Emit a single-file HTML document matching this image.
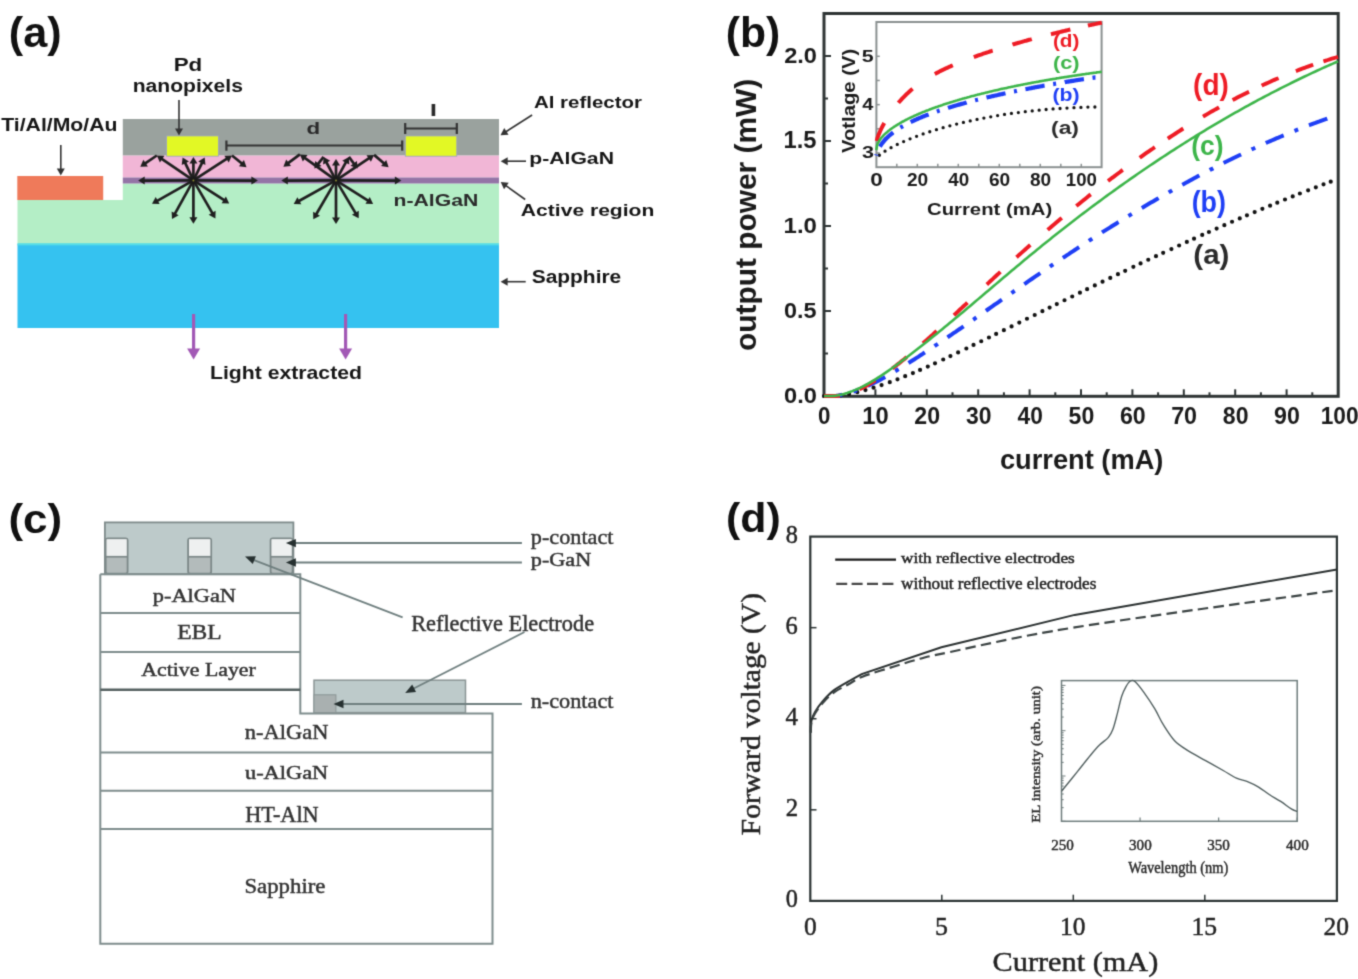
<!DOCTYPE html>
<html><head><meta charset="utf-8"><title>Figure</title>
<style>html,body{margin:0;padding:0;background:#fff;}svg{display:block;}</style></head>
<body><svg width="1358" height="979" viewBox="0 0 1358 979">
<defs><filter id="soft" x="0" y="0" width="1" height="1" color-interpolation-filters="sRGB"><feConvolveMatrix order="3" kernelMatrix="0.02560 0.10880 0.02560 0.10880 0.46240 0.10880 0.02560 0.10880 0.02560" divisor="1" edgeMode="duplicate"/></filter></defs>
<rect width="1358" height="979" fill="#fff"/>
<g filter="url(#soft)"><rect width="1358" height="979" fill="#fff"/>
<polygon points="17.5,200 122.8,200 122.8,183.5 499,183.5 499,244 17.5,244" fill="#b4eec6"/>
<rect x="17.50" y="244.00" width="481.50" height="84.00" fill="#35c2f0" stroke="none" stroke-width="0"/>
<rect x="17.50" y="243.20" width="481.50" height="2.20" fill="#55dde6" stroke="none" stroke-width="0"/>
<rect x="17.30" y="176.00" width="85.90" height="24.00" fill="#ef7a5a" stroke="none" stroke-width="0"/>
<rect x="122.80" y="119.00" width="376.20" height="36.60" fill="#9aa29e" stroke="none" stroke-width="0"/>
<rect x="122.80" y="155.60" width="376.20" height="21.90" fill="#f1b6d6" stroke="none" stroke-width="0"/>
<rect x="122.80" y="177.50" width="376.20" height="6.00" fill="#9474a6" stroke="none" stroke-width="0"/>
<rect x="166.60" y="135.90" width="51.90" height="20.30" fill="#e2f825" stroke="#9aa0c8" stroke-width="0.8"/>
<rect x="405.30" y="135.90" width="51.50" height="20.30" fill="#e2f825" stroke="#9aa0c8" stroke-width="0.8"/>
<line x1="226.40" y1="145.60" x2="402.00" y2="145.60" stroke="#333" stroke-width="2"/>
<line x1="226.40" y1="140.50" x2="226.40" y2="150.70" stroke="#333" stroke-width="2.2"/>
<line x1="402.20" y1="140.50" x2="402.20" y2="150.70" stroke="#333" stroke-width="2.2"/>
<line x1="405.20" y1="128.60" x2="456.80" y2="128.60" stroke="#333" stroke-width="2"/>
<line x1="405.20" y1="123.00" x2="405.20" y2="134.00" stroke="#333" stroke-width="2.2"/>
<line x1="456.80" y1="123.00" x2="456.80" y2="134.00" stroke="#333" stroke-width="2.2"/>
<line x1="60.80" y1="145.00" x2="60.80" y2="169.60" stroke="#333" stroke-width="1.6"/>
<polygon points="60.80,175.60 56.80,168.60 64.80,168.60" fill="#333"/>
<line x1="179.00" y1="100.00" x2="179.00" y2="129.50" stroke="#333" stroke-width="1.6"/>
<polygon points="179.00,135.50 175.00,128.50 183.00,128.50" fill="#333"/>
<line x1="532.10" y1="115.00" x2="505.56" y2="131.97" stroke="#333" stroke-width="1.6"/>
<polygon points="500.50,135.20 504.24,128.06 508.55,134.80" fill="#333"/>
<line x1="526.00" y1="161.20" x2="506.70" y2="161.20" stroke="#333" stroke-width="1.6"/>
<polygon points="500.70,161.20 507.70,157.20 507.70,165.20" fill="#333"/>
<line x1="525.20" y1="199.50" x2="505.57" y2="185.40" stroke="#333" stroke-width="1.6"/>
<polygon points="500.70,181.90 508.72,182.74 504.05,189.23" fill="#333"/>
<line x1="525.70" y1="281.70" x2="506.60" y2="281.70" stroke="#333" stroke-width="1.6"/>
<polygon points="500.60,281.70 507.60,277.70 507.60,285.70" fill="#333"/>
<line x1="193.60" y1="314.00" x2="193.60" y2="349.50" stroke="#a259b5" stroke-width="3.2"/>
<polygon points="193.60,359.50 187.10,348.50 200.10,348.50" fill="#a259b5"/>
<line x1="345.60" y1="314.00" x2="345.60" y2="349.50" stroke="#a259b5" stroke-width="3.2"/>
<polygon points="345.60,359.50 339.10,348.50 352.10,348.50" fill="#a259b5"/>
<line x1="193.40" y1="180.40" x2="143.70" y2="180.58" stroke="#1f1f1f" stroke-width="2.7"/>
<polygon points="138.20,180.60 144.69,176.58 144.71,184.58" fill="#1f1f1f"/>
<line x1="193.40" y1="180.40" x2="252.40" y2="180.58" stroke="#1f1f1f" stroke-width="2.7"/>
<polygon points="257.90,180.60 251.39,184.58 251.41,176.58" fill="#1f1f1f"/>
<line x1="193.40" y1="180.40" x2="193.40" y2="218.20" stroke="#1f1f1f" stroke-width="2.7"/>
<polygon points="193.40,223.70 189.40,217.20 197.40,217.20" fill="#1f1f1f"/>
<line x1="193.40" y1="180.40" x2="174.67" y2="214.19" stroke="#1f1f1f" stroke-width="2.7"/>
<polygon points="172.00,219.00 171.65,211.38 178.65,215.25" fill="#1f1f1f"/>
<line x1="193.40" y1="180.40" x2="212.64" y2="213.64" stroke="#1f1f1f" stroke-width="2.7"/>
<polygon points="215.40,218.40 208.68,214.78 215.60,210.77" fill="#1f1f1f"/>
<line x1="193.40" y1="180.40" x2="156.79" y2="201.09" stroke="#1f1f1f" stroke-width="2.7"/>
<polygon points="152.00,203.80 155.69,197.12 159.63,204.08" fill="#1f1f1f"/>
<line x1="193.40" y1="180.40" x2="224.57" y2="200.43" stroke="#1f1f1f" stroke-width="2.7"/>
<polygon points="229.20,203.40 221.57,203.25 225.89,196.52" fill="#1f1f1f"/>
<line x1="193.40" y1="180.40" x2="184.94" y2="162.38" stroke="#1f1f1f" stroke-width="2.7"/>
<polygon points="182.60,157.40 188.98,161.58 181.74,164.98" fill="#1f1f1f"/>
<line x1="193.40" y1="180.40" x2="193.40" y2="162.40" stroke="#1f1f1f" stroke-width="2.7"/>
<polygon points="193.40,156.90 197.40,163.40 189.40,163.40" fill="#1f1f1f"/>
<line x1="193.40" y1="180.40" x2="202.27" y2="162.34" stroke="#1f1f1f" stroke-width="2.7"/>
<polygon points="204.70,157.40 205.42,165.00 198.24,161.47" fill="#1f1f1f"/>
<line x1="193.40" y1="180.40" x2="161.35" y2="158.59" stroke="#1f1f1f" stroke-width="2.7"/>
<polygon points="156.80,155.50 164.42,155.85 159.92,162.46" fill="#1f1f1f"/>
<line x1="156.80" y1="155.50" x2="144.84" y2="163.69" stroke="#1f1f1f" stroke-width="2.7"/>
<polygon points="140.30,166.80 143.40,159.83 147.92,166.43" fill="#1f1f1f"/>
<line x1="193.40" y1="180.40" x2="227.38" y2="158.48" stroke="#1f1f1f" stroke-width="2.7"/>
<polygon points="232.00,155.50 228.71,162.38 224.37,155.66" fill="#1f1f1f"/>
<line x1="232.00" y1="155.50" x2="242.22" y2="163.75" stroke="#1f1f1f" stroke-width="2.7"/>
<polygon points="246.50,167.20 238.93,166.23 243.95,160.01" fill="#1f1f1f"/>
<line x1="336.00" y1="180.40" x2="286.80" y2="180.58" stroke="#1f1f1f" stroke-width="2.7"/>
<polygon points="281.30,180.60 287.79,176.58 287.81,184.58" fill="#1f1f1f"/>
<line x1="336.00" y1="180.40" x2="395.90" y2="180.58" stroke="#1f1f1f" stroke-width="2.7"/>
<polygon points="401.40,180.60 394.89,184.58 394.91,176.58" fill="#1f1f1f"/>
<line x1="336.00" y1="180.40" x2="336.00" y2="218.50" stroke="#1f1f1f" stroke-width="2.7"/>
<polygon points="336.00,224.00 332.00,217.50 340.00,217.50" fill="#1f1f1f"/>
<line x1="336.00" y1="180.40" x2="316.07" y2="214.55" stroke="#1f1f1f" stroke-width="2.7"/>
<polygon points="313.30,219.30 313.12,211.67 320.03,215.70" fill="#1f1f1f"/>
<line x1="336.00" y1="180.40" x2="355.87" y2="213.58" stroke="#1f1f1f" stroke-width="2.7"/>
<polygon points="358.70,218.30 351.93,214.78 358.79,210.67" fill="#1f1f1f"/>
<line x1="336.00" y1="180.40" x2="298.51" y2="201.23" stroke="#1f1f1f" stroke-width="2.7"/>
<polygon points="293.70,203.90 297.44,197.25 301.32,204.24" fill="#1f1f1f"/>
<line x1="336.00" y1="180.40" x2="368.45" y2="200.96" stroke="#1f1f1f" stroke-width="2.7"/>
<polygon points="373.10,203.90 365.47,203.80 369.75,197.04" fill="#1f1f1f"/>
<line x1="336.00" y1="180.40" x2="336.00" y2="164.40" stroke="#1f1f1f" stroke-width="2.7"/>
<polygon points="336.00,158.90 340.00,165.40 332.00,165.40" fill="#1f1f1f"/>
<line x1="336.00" y1="180.40" x2="326.17" y2="161.76" stroke="#1f1f1f" stroke-width="2.7"/>
<polygon points="323.60,156.90 330.17,160.78 323.10,164.52" fill="#1f1f1f"/>
<line x1="323.60" y1="156.90" x2="317.72" y2="164.29" stroke="#1f1f1f" stroke-width="2.7"/>
<polygon points="314.30,168.60 315.21,161.02 321.48,166.00" fill="#1f1f1f"/>
<line x1="336.00" y1="180.40" x2="346.25" y2="161.72" stroke="#1f1f1f" stroke-width="2.7"/>
<polygon points="348.90,156.90 349.28,164.52 342.27,160.67" fill="#1f1f1f"/>
<line x1="348.90" y1="156.90" x2="354.32" y2="164.19" stroke="#1f1f1f" stroke-width="2.7"/>
<polygon points="357.60,168.60 350.51,165.77 356.93,161.00" fill="#1f1f1f"/>
<line x1="336.00" y1="180.40" x2="304.36" y2="157.61" stroke="#1f1f1f" stroke-width="2.7"/>
<polygon points="299.90,154.40 307.51,154.95 302.84,161.44" fill="#1f1f1f"/>
<line x1="299.90" y1="154.40" x2="287.81" y2="163.41" stroke="#1f1f1f" stroke-width="2.7"/>
<polygon points="283.40,166.70 286.22,159.61 291.00,166.02" fill="#1f1f1f"/>
<line x1="336.00" y1="180.40" x2="369.53" y2="157.96" stroke="#1f1f1f" stroke-width="2.7"/>
<polygon points="374.10,154.90 370.92,161.84 366.47,155.19" fill="#1f1f1f"/>
<line x1="374.10" y1="154.90" x2="384.42" y2="163.73" stroke="#1f1f1f" stroke-width="2.7"/>
<polygon points="388.60,167.30 381.06,166.12 386.26,160.04" fill="#1f1f1f"/>
<circle cx="193.4" cy="180.4" r="3.6" fill="#1a1a1a"/><circle cx="193.4" cy="180.4" r="1" fill="#8a8a30"/>
<circle cx="336" cy="180.4" r="3.6" fill="#1a1a1a"/><circle cx="336" cy="180.4" r="1" fill="#8a8a30"/>
<text transform="translate(8.84,46.99) scale(1.0073,1)" font-family='"Liberation Sans", Arial, sans-serif' font-weight="700" font-size="42.89" fill="#111">(a)</text>
<text transform="translate(173.65,71.20) scale(1.2280,1)" font-family='"Liberation Sans", Arial, sans-serif' font-weight="700" font-size="18.21" fill="#151515">Pd</text>
<text transform="translate(132.63,91.84) scale(1.2122,1)" font-family='"Liberation Sans", Arial, sans-serif' font-weight="700" font-size="17.43" fill="#151515">nanopixels</text>
<text transform="translate(1.19,131.20) scale(1.1492,1)" font-family='"Liberation Sans", Arial, sans-serif' font-weight="700" font-size="18.48" fill="#151515">Ti/Al/Mo/Au</text>
<text transform="translate(533.89,107.60) scale(1.2070,1)" font-family='"Liberation Sans", Arial, sans-serif' font-weight="700" font-size="16.97" fill="#151515">Al reflector</text>
<text transform="translate(529.22,164.30) scale(1.3358,1)" font-family='"Liberation Sans", Arial, sans-serif' font-weight="700" font-size="15.86" fill="#151515">p-AlGaN</text>
<text transform="translate(393.42,205.50) scale(1.3611,1)" font-family='"Liberation Sans", Arial, sans-serif' font-weight="700" font-size="15.59" fill="#2a2a2a">n-AlGaN</text>
<text transform="translate(520.87,216.40) scale(1.3295,1)" font-family='"Liberation Sans", Arial, sans-serif' font-weight="700" font-size="15.86" fill="#151515">Active region</text>
<text transform="translate(531.67,283.40) scale(1.1168,1)" font-family='"Liberation Sans", Arial, sans-serif' font-weight="700" font-size="18.76" fill="#151515">Sapphire</text>
<text transform="translate(209.92,379.30) scale(1.1569,1)" font-family='"Liberation Sans", Arial, sans-serif' font-weight="700" font-size="18.34" fill="#151515">Light extracted</text>
<text transform="translate(306.40,133.50) scale(1.3297,1)" font-family='"Liberation Sans", Arial, sans-serif' font-weight="700" font-size="16.83" fill="#2a2a2a">d</text>
<text transform="translate(429.65,115.60) scale(1.6956,1)" font-family='"Liberation Sans", Arial, sans-serif' font-weight="700" font-size="15.59" fill="#2a2a2a">l</text>
<rect x="824" y="13.5" width="514.2" height="382.8" fill="none" stroke="#2e3434" stroke-width="3"/>
<line x1="849.70" y1="396.30" x2="849.70" y2="392.30" stroke="#2e3434" stroke-width="2"/>
<line x1="875.40" y1="396.30" x2="875.40" y2="389.30" stroke="#2e3434" stroke-width="2"/>
<line x1="901.10" y1="396.30" x2="901.10" y2="392.30" stroke="#2e3434" stroke-width="2"/>
<line x1="926.80" y1="396.30" x2="926.80" y2="389.30" stroke="#2e3434" stroke-width="2"/>
<line x1="952.50" y1="396.30" x2="952.50" y2="392.30" stroke="#2e3434" stroke-width="2"/>
<line x1="978.20" y1="396.30" x2="978.20" y2="389.30" stroke="#2e3434" stroke-width="2"/>
<line x1="1003.90" y1="396.30" x2="1003.90" y2="392.30" stroke="#2e3434" stroke-width="2"/>
<line x1="1029.60" y1="396.30" x2="1029.60" y2="389.30" stroke="#2e3434" stroke-width="2"/>
<line x1="1055.30" y1="396.30" x2="1055.30" y2="392.30" stroke="#2e3434" stroke-width="2"/>
<line x1="1081.00" y1="396.30" x2="1081.00" y2="389.30" stroke="#2e3434" stroke-width="2"/>
<line x1="1106.70" y1="396.30" x2="1106.70" y2="392.30" stroke="#2e3434" stroke-width="2"/>
<line x1="1132.40" y1="396.30" x2="1132.40" y2="389.30" stroke="#2e3434" stroke-width="2"/>
<line x1="1158.10" y1="396.30" x2="1158.10" y2="392.30" stroke="#2e3434" stroke-width="2"/>
<line x1="1183.80" y1="396.30" x2="1183.80" y2="389.30" stroke="#2e3434" stroke-width="2"/>
<line x1="1209.50" y1="396.30" x2="1209.50" y2="392.30" stroke="#2e3434" stroke-width="2"/>
<line x1="1235.20" y1="396.30" x2="1235.20" y2="389.30" stroke="#2e3434" stroke-width="2"/>
<line x1="1260.90" y1="396.30" x2="1260.90" y2="392.30" stroke="#2e3434" stroke-width="2"/>
<line x1="1286.60" y1="396.30" x2="1286.60" y2="389.30" stroke="#2e3434" stroke-width="2"/>
<line x1="1312.30" y1="396.30" x2="1312.30" y2="392.30" stroke="#2e3434" stroke-width="2"/>
<line x1="824.00" y1="353.50" x2="828.00" y2="353.50" stroke="#2e3434" stroke-width="2"/>
<line x1="824.00" y1="311.00" x2="831.00" y2="311.00" stroke="#2e3434" stroke-width="2"/>
<line x1="824.00" y1="268.50" x2="828.00" y2="268.50" stroke="#2e3434" stroke-width="2"/>
<line x1="824.00" y1="226.00" x2="831.00" y2="226.00" stroke="#2e3434" stroke-width="2"/>
<line x1="824.00" y1="183.50" x2="828.00" y2="183.50" stroke="#2e3434" stroke-width="2"/>
<line x1="824.00" y1="141.00" x2="831.00" y2="141.00" stroke="#2e3434" stroke-width="2"/>
<line x1="824.00" y1="98.50" x2="828.00" y2="98.50" stroke="#2e3434" stroke-width="2"/>
<line x1="824.00" y1="56.00" x2="831.00" y2="56.00" stroke="#2e3434" stroke-width="2"/>
<text transform="translate(784.05,402.87) scale(1.0371,1)" font-family='"Liberation Sans", Arial, sans-serif' font-weight="700" font-size="22.82" fill="#1a1a1a">0.0</text>
<text transform="translate(784.06,317.87) scale(1.0254,1)" font-family='"Liberation Sans", Arial, sans-serif' font-weight="700" font-size="22.82" fill="#1a1a1a">0.5</text>
<text transform="translate(783.56,232.87) scale(1.0532,1)" font-family='"Liberation Sans", Arial, sans-serif' font-weight="700" font-size="22.82" fill="#1a1a1a">1.0</text>
<text transform="translate(783.57,147.87) scale(1.0264,1)" font-family='"Liberation Sans", Arial, sans-serif' font-weight="700" font-size="23.14" fill="#1a1a1a">1.5</text>
<text transform="translate(784.17,62.87) scale(1.0332,1)" font-family='"Liberation Sans", Arial, sans-serif' font-weight="700" font-size="22.82" fill="#1a1a1a">2.0</text>
<text transform="translate(818.11,423.96) scale(0.9320,1)" font-family='"Liberation Sans", Arial, sans-serif' font-weight="700" font-size="23.94" fill="#1a1a1a">0</text>
<text transform="translate(862.27,423.96) scale(0.9924,1)" font-family='"Liberation Sans", Arial, sans-serif' font-weight="700" font-size="23.94" fill="#1a1a1a">10</text>
<text transform="translate(914.29,423.96) scale(0.9685,1)" font-family='"Liberation Sans", Arial, sans-serif' font-weight="700" font-size="23.94" fill="#1a1a1a">20</text>
<text transform="translate(965.93,423.96) scale(0.9592,1)" font-family='"Liberation Sans", Arial, sans-serif' font-weight="700" font-size="23.94" fill="#1a1a1a">30</text>
<text transform="translate(1017.56,423.96) scale(0.9501,1)" font-family='"Liberation Sans", Arial, sans-serif' font-weight="700" font-size="23.94" fill="#1a1a1a">40</text>
<text transform="translate(1068.61,423.96) scale(0.9638,1)" font-family='"Liberation Sans", Arial, sans-serif' font-weight="700" font-size="23.94" fill="#1a1a1a">50</text>
<text transform="translate(1119.89,423.96) scale(0.9685,1)" font-family='"Liberation Sans", Arial, sans-serif' font-weight="700" font-size="23.94" fill="#1a1a1a">60</text>
<text transform="translate(1171.17,423.96) scale(0.9732,1)" font-family='"Liberation Sans", Arial, sans-serif' font-weight="700" font-size="23.94" fill="#1a1a1a">70</text>
<text transform="translate(1222.81,423.96) scale(0.9638,1)" font-family='"Liberation Sans", Arial, sans-serif' font-weight="700" font-size="23.94" fill="#1a1a1a">80</text>
<text transform="translate(1274.09,423.96) scale(0.9685,1)" font-family='"Liberation Sans", Arial, sans-serif' font-weight="700" font-size="23.94" fill="#1a1a1a">90</text>
<text transform="translate(1320.69,423.96) scale(0.9474,1)" font-family='"Liberation Sans", Arial, sans-serif' font-weight="700" font-size="23.94" fill="#1a1a1a">100</text>
<text transform="translate(999.91,469.29) scale(0.9689,1)" font-family='"Liberation Sans", Arial, sans-serif' font-weight="700" font-size="28.13" fill="#1a1a1a">current (mA)</text>
<text transform="translate(755.98,351.10) rotate(-90) scale(1.0439,1)" font-family='"Liberation Sans", Arial, sans-serif' font-weight="700" font-size="28.66" fill="#1a1a1a">output power (mW)</text>
<text transform="translate(725.87,46.76) scale(1.0014,1)" font-family='"Liberation Sans", Arial, sans-serif' font-weight="700" font-size="42.57" fill="#111">(b)</text>
<path d="M824.0,396.0 L826.1,396.0 L828.1,396.0 L830.2,396.0 L832.2,396.0 L834.3,396.0 L836.3,396.0 L838.4,395.8 L840.4,395.5 L842.5,395.2 L844.6,394.8 L846.6,394.5 L848.7,394.1 L850.7,393.6 L852.8,393.2 L854.8,392.8 L856.9,392.3 L859.0,391.8 L861.0,391.3 L863.1,390.7 L865.1,390.2 L867.2,389.6 L869.2,389.0 L871.3,388.4 L873.3,387.8 L875.4,387.1 L877.5,386.5 L879.5,385.8 L881.6,385.1 L883.6,384.4 L885.7,383.7 L887.7,382.9 L889.8,382.2 L891.8,381.4 L893.9,380.7 L896.0,379.9 L898.0,379.1 L900.1,378.3 L902.1,377.5 L904.2,376.6 L906.2,375.8 L908.3,375.0 L910.4,374.1 L912.4,373.3 L914.5,372.4 L916.5,371.5 L918.6,370.6 L920.6,369.7 L922.7,368.8 L924.7,367.9 L926.8,367.0 L928.9,366.1 L930.9,365.2 L933.0,364.2 L935.0,363.3 L937.1,362.3 L939.1,361.4 L941.2,360.4 L943.2,359.5 L945.3,358.5 L947.4,357.6 L949.4,356.6 L951.5,355.6 L953.5,354.6 L955.6,353.7 L957.6,352.7 L959.7,351.7 L961.8,350.7 L963.8,349.7 L965.9,348.7 L967.9,347.7 L970.0,346.7 L972.0,345.7 L974.1,344.7 L976.1,343.7 L978.2,342.7 L980.3,341.7 L982.3,340.7 L984.4,339.7 L986.4,338.7 L988.5,337.7 L990.5,336.7 L992.6,335.7 L994.6,334.7 L996.7,333.7 L998.8,332.7 L1000.8,331.7 L1002.9,330.7 L1004.9,329.7 L1007.0,328.7 L1009.0,327.6 L1011.1,326.6 L1013.2,325.6 L1015.2,324.6 L1017.3,323.6 L1019.3,322.6 L1021.4,321.6 L1023.4,320.5 L1025.5,319.5 L1027.5,318.5 L1029.6,317.5 L1031.7,316.5 L1033.7,315.5 L1035.8,314.5 L1037.8,313.4 L1039.9,312.4 L1041.9,311.4 L1044.0,310.4 L1046.0,309.4 L1048.1,308.4 L1050.2,307.3 L1052.2,306.3 L1054.3,305.3 L1056.3,304.3 L1058.4,303.3 L1060.4,302.3 L1062.5,301.3 L1064.6,300.2 L1066.6,299.2 L1068.7,298.2 L1070.7,297.2 L1072.8,296.2 L1074.8,295.2 L1076.9,294.2 L1078.9,293.2 L1081.0,292.2 L1083.1,291.2 L1085.1,290.2 L1087.2,289.1 L1089.2,288.1 L1091.3,287.1 L1093.3,286.1 L1095.4,285.1 L1097.4,284.1 L1099.5,283.1 L1101.6,282.1 L1103.6,281.2 L1105.7,280.2 L1107.7,279.2 L1109.8,278.2 L1111.8,277.2 L1113.9,276.2 L1116.0,275.2 L1118.0,274.2 L1120.1,273.2 L1122.1,272.2 L1124.2,271.3 L1126.2,270.3 L1128.3,269.3 L1130.3,268.3 L1132.4,267.3 L1134.5,266.3 L1136.5,265.4 L1138.6,264.4 L1140.6,263.4 L1142.7,262.5 L1144.7,261.5 L1146.8,260.5 L1148.8,259.5 L1150.9,258.6 L1153.0,257.6 L1155.0,256.6 L1157.1,255.7 L1159.1,254.7 L1161.2,253.8 L1163.2,252.8 L1165.3,251.9 L1167.4,250.9 L1169.4,249.9 L1171.5,249.0 L1173.5,248.0 L1175.6,247.1 L1177.6,246.2 L1179.7,245.2 L1181.7,244.3 L1183.8,243.3 L1185.9,242.4 L1187.9,241.5 L1190.0,240.5 L1192.0,239.6 L1194.1,238.7 L1196.1,237.7 L1198.2,236.8 L1200.2,235.9 L1202.3,234.9 L1204.4,234.0 L1206.4,233.1 L1208.5,232.2 L1210.5,231.3 L1212.6,230.3 L1214.6,229.4 L1216.7,228.5 L1218.8,227.6 L1220.8,226.7 L1222.9,225.8 L1224.9,224.9 L1227.0,224.0 L1229.0,223.1 L1231.1,222.2 L1233.1,221.3 L1235.2,220.4 L1237.3,219.5 L1239.3,218.6 L1241.4,217.8 L1243.4,216.9 L1245.5,216.0 L1247.5,215.1 L1249.6,214.2 L1251.6,213.4 L1253.7,212.5 L1255.8,211.6 L1257.8,210.8 L1259.9,209.9 L1261.9,209.0 L1264.0,208.2 L1266.0,207.3 L1268.1,206.5 L1270.2,205.6 L1272.2,204.7 L1274.3,203.9 L1276.3,203.1 L1278.4,202.2 L1280.4,201.4 L1282.5,200.5 L1284.5,199.7 L1286.6,198.9 L1288.7,198.0 L1290.7,197.2 L1292.8,196.4 L1294.8,195.6 L1296.9,194.7 L1298.9,193.9 L1301.0,193.1 L1303.0,192.3 L1305.1,191.5 L1307.2,190.7 L1309.2,189.9 L1311.3,189.1 L1313.3,188.3 L1315.4,187.5 L1317.4,186.7 L1319.5,185.9 L1321.6,185.1 L1323.6,184.3 L1325.7,183.5 L1327.7,182.8 L1329.8,182.0 L1331.8,181.2 L1332.9,180.8" fill="none" stroke="#111" stroke-width="4.2" stroke-linecap="round" stroke-dasharray="0.00 8.37 0.00 8.43 0.00 8.43 0.00 8.43 0.00 8.43 0.00 8.43 0.00 8.43 0.00 8.72 0.00 8.24 0.00 8.29 0.00 8.34 0.00 7.83 0.00 8.43 0.00 7.90 0.00 9.06 0.00 7.95 0.00 8.54 0.00 9.13 0.00 7.99 0.00 8.57 0.00 8.58 0.00 8.01 0.00 8.59 0.00 8.59 0.00 8.60 0.00 8.60 0.00 8.60 0.00 8.60 0.00 8.03 0.00 8.02 0.00 8.60 0.00 8.59 0.00 8.59 0.00 8.01 0.00 8.58 0.00 8.57 0.00 8.56 0.00 8.56 0.00 7.98 0.00 9.11 0.00 7.96 0.00 8.53 0.00 8.52 0.00 7.94 0.00 9.07 0.00 8.49 0.00 8.48 0.00 7.90 0.00 9.02 0.00 7.32 0.00 8.44 0.00 8.43 0.00 8.41 0.00 8.40 0.00 7.83 0.00 8.38 0.00 8.37 0.00 8.35 0.00 7.78 0.00 8.33 0.00 8.31 0.00 7.75 0.00 8.84 0.00 8.27 0.00 8.26 0.00 7.69 0.00 1000.00"/>
<path d="M824.0,396.0 L826.1,396.0 L828.1,396.0 L830.2,396.0 L832.2,396.0 L834.3,396.0 L836.3,395.8 L838.4,395.5 L840.4,395.1 L842.5,394.7 L844.6,394.2 L846.6,393.7 L848.7,393.1 L850.7,392.5 L852.8,391.8 L854.8,391.2 L856.9,390.4 L859.0,389.7 L861.0,388.9 L863.1,388.0 L865.1,387.1 L867.2,386.2 L869.2,385.3 L871.3,384.3 L873.3,383.3 L875.4,382.3 L877.5,381.2 L879.5,380.2 L881.6,379.1 L883.6,377.9 L885.7,376.8 L887.7,375.6 L889.8,374.4 L891.8,373.2 L893.9,372.0 L896.0,370.8 L898.0,369.5 L900.1,368.3 L902.1,367.0 L904.2,365.7 L906.2,364.4 L908.3,363.1 L910.4,361.8 L912.4,360.5 L914.5,359.2 L916.5,357.9 L918.6,356.6 L920.6,355.2 L922.7,353.9 L924.7,352.5 L926.8,351.2 L928.9,349.8 L930.9,348.5 L933.0,347.1 L935.0,345.7 L937.1,344.4 L939.1,343.0 L941.2,341.6 L943.2,340.2 L945.3,338.8 L947.4,337.4 L949.4,336.0 L951.5,334.6 L953.5,333.2 L955.6,331.8 L957.6,330.4 L959.7,329.0 L961.8,327.6 L963.8,326.2 L965.9,324.8 L967.9,323.3 L970.0,321.9 L972.0,320.5 L974.1,319.1 L976.1,317.6 L978.2,316.2 L980.3,314.8 L982.3,313.3 L984.4,311.9 L986.4,310.5 L988.5,309.0 L990.5,307.6 L992.6,306.2 L994.6,304.7 L996.7,303.3 L998.8,301.9 L1000.8,300.4 L1002.9,299.0 L1004.9,297.6 L1007.0,296.1 L1009.0,294.7 L1011.1,293.3 L1013.2,291.8 L1015.2,290.4 L1017.3,289.0 L1019.3,287.5 L1021.4,286.1 L1023.4,284.7 L1025.5,283.3 L1027.5,281.8 L1029.6,280.4 L1031.7,279.0 L1033.7,277.6 L1035.8,276.2 L1037.8,274.8 L1039.9,273.4 L1041.9,272.0 L1044.0,270.6 L1046.0,269.2 L1048.1,267.8 L1050.2,266.4 L1052.2,265.0 L1054.3,263.6 L1056.3,262.3 L1058.4,260.9 L1060.4,259.5 L1062.5,258.1 L1064.6,256.8 L1066.6,255.4 L1068.7,254.1 L1070.7,252.7 L1072.8,251.3 L1074.8,250.0 L1076.9,248.6 L1078.9,247.3 L1081.0,246.0 L1083.1,244.6 L1085.1,243.3 L1087.2,242.0 L1089.2,240.6 L1091.3,239.3 L1093.3,238.0 L1095.4,236.7 L1097.4,235.4 L1099.5,234.1 L1101.6,232.7 L1103.6,231.4 L1105.7,230.1 L1107.7,228.9 L1109.8,227.6 L1111.8,226.3 L1113.9,225.0 L1116.0,223.7 L1118.0,222.4 L1120.1,221.2 L1122.1,219.9 L1124.2,218.6 L1126.2,217.4 L1128.3,216.1 L1130.3,214.9 L1132.4,213.6 L1134.5,212.4 L1136.5,211.2 L1138.6,209.9 L1140.6,208.7 L1142.7,207.5 L1144.7,206.2 L1146.8,205.0 L1148.8,203.8 L1150.9,202.6 L1153.0,201.4 L1155.0,200.2 L1157.1,199.0 L1159.1,197.8 L1161.2,196.6 L1163.2,195.5 L1165.3,194.3 L1167.4,193.1 L1169.4,191.9 L1171.5,190.8 L1173.5,189.6 L1175.6,188.5 L1177.6,187.3 L1179.7,186.2 L1181.7,185.0 L1183.8,183.9 L1185.9,182.8 L1187.9,181.7 L1190.0,180.5 L1192.0,179.4 L1194.1,178.3 L1196.1,177.2 L1198.2,176.1 L1200.2,175.0 L1202.3,173.9 L1204.4,172.8 L1206.4,171.8 L1208.5,170.7 L1210.5,169.6 L1212.6,168.6 L1214.6,167.5 L1216.7,166.5 L1218.8,165.4 L1220.8,164.4 L1222.9,163.3 L1224.9,162.3 L1227.0,161.3 L1229.0,160.3 L1231.1,159.3 L1233.1,158.2 L1235.2,157.2 L1237.3,156.2 L1239.3,155.3 L1241.4,154.3 L1243.4,153.3 L1245.5,152.3 L1247.5,151.4 L1249.6,150.4 L1251.6,149.4 L1253.7,148.5 L1255.8,147.5 L1257.8,146.6 L1259.9,145.7 L1261.9,144.7 L1264.0,143.8 L1266.0,142.9 L1268.1,142.0 L1270.2,141.1 L1272.2,140.2 L1274.3,139.3 L1276.3,138.4 L1278.4,137.6 L1280.4,136.7 L1282.5,135.8 L1284.5,135.0 L1286.6,134.1 L1288.7,133.3 L1290.7,132.4 L1292.8,131.6 L1294.8,130.8 L1296.9,129.9 L1298.9,129.1 L1301.0,128.3 L1303.0,127.5 L1305.1,126.7 L1307.2,125.9 L1309.2,125.2 L1311.3,124.4 L1313.3,123.6 L1315.4,122.9 L1317.4,122.1 L1319.5,121.4 L1321.6,120.6 L1323.6,119.9 L1325.7,119.2 L1327.7,118.4 L1329.8,117.7 L1330.3,117.5" fill="none" stroke="#1f3ff5" stroke-width="4" stroke-dasharray="19.5 11.6 4 11.6" stroke-dashoffset="1.2"/>
<path d="M824.0,396.0 L826.1,396.0 L828.1,396.0 L830.2,396.0 L832.2,396.0 L834.3,396.0 L836.3,396.0 L838.4,395.8 L840.4,395.4 L842.5,395.0 L844.6,394.5 L846.6,394.0 L848.7,393.4 L850.7,392.7 L852.8,391.9 L854.8,391.1 L856.9,390.3 L859.0,389.4 L861.0,388.4 L863.1,387.4 L865.1,386.4 L867.2,385.3 L869.2,384.1 L871.3,382.9 L873.3,381.7 L875.4,380.4 L877.5,379.1 L879.5,377.7 L881.6,376.3 L883.6,374.9 L885.7,373.5 L887.7,372.0 L889.8,370.5 L891.8,368.9 L893.9,367.3 L896.0,365.8 L898.0,364.1 L900.1,362.5 L902.1,360.8 L904.2,359.2 L906.2,357.5 L908.3,355.8 L910.4,354.1 L912.4,352.3 L914.5,350.6 L916.5,348.8 L918.6,347.1 L920.6,345.3 L922.7,343.5 L924.7,341.7 L926.8,339.9 L928.9,338.1 L930.9,336.2 L933.0,334.4 L935.0,332.5 L937.1,330.7 L939.1,328.8 L941.2,326.9 L943.2,325.1 L945.3,323.2 L947.4,321.3 L949.4,319.4 L951.5,317.5 L953.5,315.6 L955.6,313.7 L957.6,311.8 L959.7,309.8 L961.8,307.9 L963.8,306.0 L965.9,304.1 L967.9,302.1 L970.0,300.2 L972.0,298.3 L974.1,296.4 L976.1,294.4 L978.2,292.5 L980.3,290.6 L982.3,288.7 L984.4,286.7 L986.4,284.8 L988.5,282.9 L990.5,281.0 L992.6,279.1 L994.6,277.2 L996.7,275.3 L998.8,273.4 L1000.8,271.5 L1002.9,269.6 L1004.9,267.7 L1007.0,265.8 L1009.0,264.0 L1011.1,262.1 L1013.2,260.3 L1015.2,258.4 L1017.3,256.6 L1019.3,254.7 L1021.4,252.9 L1023.4,251.1 L1025.5,249.2 L1027.5,247.4 L1029.6,245.6 L1031.7,243.8 L1033.7,242.0 L1035.8,240.2 L1037.8,238.4 L1039.9,236.6 L1041.9,234.8 L1044.0,233.1 L1046.0,231.3 L1048.1,229.5 L1050.2,227.8 L1052.2,226.0 L1054.3,224.3 L1056.3,222.6 L1058.4,220.8 L1060.4,219.1 L1062.5,217.4 L1064.6,215.7 L1066.6,214.0 L1068.7,212.3 L1070.7,210.6 L1072.8,208.9 L1074.8,207.2 L1076.9,205.5 L1078.9,203.9 L1081.0,202.2 L1083.1,200.6 L1085.1,198.9 L1087.2,197.3 L1089.2,195.6 L1091.3,194.0 L1093.3,192.4 L1095.4,190.8 L1097.4,189.2 L1099.5,187.6 L1101.6,186.0 L1103.6,184.4 L1105.7,182.8 L1107.7,181.2 L1109.8,179.7 L1111.8,178.1 L1113.9,176.6 L1116.0,175.0 L1118.0,173.5 L1120.1,172.0 L1122.1,170.4 L1124.2,168.9 L1126.2,167.4 L1128.3,165.9 L1130.3,164.4 L1132.4,162.9 L1134.5,161.5 L1136.5,160.0 L1138.6,158.5 L1140.6,157.1 L1142.7,155.6 L1144.7,154.2 L1146.8,152.7 L1148.8,151.3 L1150.9,149.9 L1153.0,148.5 L1155.0,147.1 L1157.1,145.7 L1159.1,144.3 L1161.2,142.9 L1163.2,141.5 L1165.3,140.2 L1167.4,138.8 L1169.4,137.5 L1171.5,136.1 L1173.5,134.8 L1175.6,133.5 L1177.6,132.2 L1179.7,130.8 L1181.7,129.5 L1183.8,128.2 L1185.9,127.0 L1187.9,125.7 L1190.0,124.4 L1192.0,123.2 L1194.1,121.9 L1196.1,120.7 L1198.2,119.4 L1200.2,118.2 L1202.3,117.0 L1204.4,115.8 L1206.4,114.6 L1208.5,113.4 L1210.5,112.2 L1212.6,111.0 L1214.6,109.9 L1216.7,108.7 L1218.8,107.6 L1220.8,106.4 L1222.9,105.3 L1224.9,104.2 L1227.0,103.0 L1229.0,101.9 L1231.1,100.8 L1233.1,99.8 L1235.2,98.7 L1237.3,97.6 L1239.3,96.5 L1241.4,95.5 L1243.4,94.5 L1245.5,93.4 L1247.5,92.4 L1249.6,91.4 L1251.6,90.4 L1253.7,89.4 L1255.8,88.4 L1257.8,87.4 L1259.9,86.5 L1261.9,85.5 L1264.0,84.5 L1266.0,83.6 L1268.1,82.7 L1270.2,81.8 L1272.2,80.8 L1274.3,79.9 L1276.3,79.0 L1278.4,78.2 L1280.4,77.3 L1282.5,76.4 L1284.5,75.6 L1286.6,74.7 L1288.7,73.9 L1290.7,73.1 L1292.8,72.3 L1294.8,71.5 L1296.9,70.7 L1298.9,69.9 L1301.0,69.1 L1303.0,68.3 L1305.1,67.6 L1307.2,66.8 L1309.2,66.1 L1311.3,65.4 L1313.3,64.7 L1315.4,64.0 L1317.4,63.3 L1319.5,62.6 L1321.6,61.9 L1323.6,61.3 L1325.7,60.6 L1327.7,60.0 L1329.8,59.3 L1331.8,58.7 L1333.9,58.1 L1335.9,57.5 L1338.0,56.9" fill="none" stroke="#ee1c25" stroke-width="3.9" stroke-dasharray="0.00 0.00 15.85 20.50 18.50 20.50 18.50 21.30 18.50 23.34 18.50 26.53 18.50 21.77 18.50 23.00 18.50 18.79 18.50 21.85 18.50 20.82 18.50 15.51 18.50 23.01 18.50 15.41 18.50 13.98 18.50 18.67 18.50 10.75 18.50 1000.00 0.00"/>
<path d="M824.00,396.00 L826.57,396.00 L829.14,396.00 L831.71,396.00 L834.28,395.92 L836.85,395.53 L839.42,395.03 L841.99,394.43 L844.56,393.74 L847.13,392.96 L849.70,392.09 L852.27,391.14 L854.84,390.11 L857.41,388.99 L859.98,387.81 L862.55,386.55 L865.12,385.23 L867.69,383.84 L870.26,382.39 L872.83,380.88 L875.40,379.33 L877.97,377.72 L880.54,376.06 L883.11,374.36 L885.68,372.62 L888.25,370.84 L890.82,369.04 L893.39,367.20 L895.96,365.33 L898.53,363.44 L901.10,361.54 L903.67,359.61 L906.24,357.67 L908.81,355.72 L911.38,353.75 L913.95,351.77 L916.52,349.78 L919.09,347.77 L921.66,345.75 L924.23,343.72 L926.80,341.67 L929.37,339.62 L931.94,337.56 L934.51,335.48 L937.08,333.40 L939.65,331.31 L942.22,329.20 L944.79,327.10 L947.36,324.98 L949.93,322.85 L952.50,320.72 L955.07,318.58 L957.64,316.44 L960.21,314.29 L962.78,312.14 L965.35,309.98 L967.92,307.82 L970.49,305.65 L973.06,303.48 L975.63,301.31 L978.20,299.13 L980.77,296.96 L983.34,294.78 L985.91,292.60 L988.48,290.42 L991.05,288.24 L993.62,286.06 L996.19,283.88 L998.76,281.71 L1001.33,279.53 L1003.90,277.36 L1006.47,275.19 L1009.04,273.02 L1011.61,270.86 L1014.18,268.70 L1016.75,266.55 L1019.32,264.40 L1021.89,262.25 L1024.46,260.12 L1027.03,257.98 L1029.60,255.86 L1032.17,253.74 L1034.74,251.63 L1037.31,249.53 L1039.88,247.44 L1042.45,245.35 L1045.02,243.27 L1047.59,241.21 L1050.16,239.15 L1052.73,237.09 L1055.30,235.05 L1057.87,233.01 L1060.44,230.99 L1063.01,228.97 L1065.58,226.96 L1068.15,224.96 L1070.72,222.96 L1073.29,220.98 L1075.86,219.00 L1078.43,217.03 L1081.00,215.07 L1083.57,213.12 L1086.14,211.17 L1088.71,209.24 L1091.28,207.31 L1093.85,205.39 L1096.42,203.48 L1098.99,201.58 L1101.56,199.68 L1104.13,197.80 L1106.70,195.92 L1109.27,194.05 L1111.84,192.19 L1114.41,190.34 L1116.98,188.49 L1119.55,186.66 L1122.12,184.83 L1124.69,183.01 L1127.26,181.20 L1129.83,179.40 L1132.40,177.60 L1134.97,175.82 L1137.54,174.04 L1140.11,172.27 L1142.68,170.51 L1145.25,168.76 L1147.82,167.01 L1150.39,165.28 L1152.96,163.55 L1155.53,161.83 L1158.10,160.12 L1160.67,158.42 L1163.24,156.73 L1165.81,155.04 L1168.38,153.36 L1170.95,151.70 L1173.52,150.04 L1176.09,148.38 L1178.66,146.74 L1181.23,145.11 L1183.80,143.48 L1186.37,141.86 L1188.94,140.25 L1191.51,138.65 L1194.08,137.06 L1196.65,135.47 L1199.22,133.90 L1201.79,132.33 L1204.36,130.77 L1206.93,129.22 L1209.50,127.68 L1212.07,126.14 L1214.64,124.62 L1217.21,123.10 L1219.78,121.59 L1222.35,120.09 L1224.92,118.60 L1227.49,117.11 L1230.06,115.64 L1232.63,114.17 L1235.20,112.71 L1237.77,111.26 L1240.34,109.82 L1242.91,108.39 L1245.48,106.97 L1248.05,105.55 L1250.62,104.14 L1253.19,102.74 L1255.76,101.35 L1258.33,99.97 L1260.90,98.60 L1263.47,97.23 L1266.04,95.87 L1268.61,94.53 L1271.18,93.19 L1273.75,91.86 L1276.32,90.53 L1278.89,89.22 L1281.46,87.91 L1284.03,86.61 L1286.60,85.33 L1289.17,84.05 L1291.74,82.77 L1294.31,81.51 L1296.88,80.26 L1299.45,79.01 L1302.02,77.77 L1304.59,76.54 L1307.16,75.32 L1309.73,74.11 L1312.30,72.90 L1314.87,71.71 L1317.44,70.52 L1320.01,69.34 L1322.58,68.17 L1325.15,67.01 L1327.72,65.86 L1330.29,64.71 L1332.86,63.58 L1335.43,62.45 L1338.00,61.33" fill="none" stroke="#3db54a" stroke-width="2.6"/>
<text transform="translate(1193.10,95.18) scale(0.9757,1)" font-family='"Liberation Sans", Arial, sans-serif' font-weight="700" font-size="28.66" fill="#ee1c25">(d)</text>
<text transform="translate(1191.18,155.00) scale(0.9276,1)" font-family='"Liberation Sans", Arial, sans-serif' font-weight="700" font-size="28.56" fill="#3db54a">(c)</text>
<text transform="translate(1191.65,211.78) scale(0.9402,1)" font-family='"Liberation Sans", Arial, sans-serif' font-weight="700" font-size="28.66" fill="#1f3ff5">(b)</text>
<text transform="translate(1193.32,263.65) scale(1.0778,1)" font-family='"Liberation Sans", Arial, sans-serif' font-weight="700" font-size="27.38" fill="#2a2a2a">(a)</text>
<rect x="876.40" y="22.00" width="225.20" height="145.20" fill="#fff" stroke="#8a9090" stroke-width="2"/>
<line x1="896.80" y1="167.20" x2="896.80" y2="163.80" stroke="#8a9090" stroke-width="1.5"/>
<line x1="917.30" y1="167.20" x2="917.30" y2="163.80" stroke="#8a9090" stroke-width="1.5"/>
<line x1="937.80" y1="167.20" x2="937.80" y2="163.80" stroke="#8a9090" stroke-width="1.5"/>
<line x1="958.30" y1="167.20" x2="958.30" y2="163.80" stroke="#8a9090" stroke-width="1.5"/>
<line x1="978.80" y1="167.20" x2="978.80" y2="163.80" stroke="#8a9090" stroke-width="1.5"/>
<line x1="999.30" y1="167.20" x2="999.30" y2="163.80" stroke="#8a9090" stroke-width="1.5"/>
<line x1="1019.80" y1="167.20" x2="1019.80" y2="163.80" stroke="#8a9090" stroke-width="1.5"/>
<line x1="1040.30" y1="167.20" x2="1040.30" y2="163.80" stroke="#8a9090" stroke-width="1.5"/>
<line x1="1060.80" y1="167.20" x2="1060.80" y2="163.80" stroke="#8a9090" stroke-width="1.5"/>
<line x1="1081.30" y1="167.20" x2="1081.30" y2="163.80" stroke="#8a9090" stroke-width="1.5"/>
<line x1="876.40" y1="153.00" x2="879.80" y2="153.00" stroke="#8a9090" stroke-width="1.5"/>
<line x1="876.40" y1="128.82" x2="879.80" y2="128.82" stroke="#8a9090" stroke-width="1.5"/>
<line x1="876.40" y1="104.65" x2="879.80" y2="104.65" stroke="#8a9090" stroke-width="1.5"/>
<line x1="876.40" y1="80.47" x2="879.80" y2="80.47" stroke="#8a9090" stroke-width="1.5"/>
<line x1="876.40" y1="56.30" x2="879.80" y2="56.30" stroke="#8a9090" stroke-width="1.5"/>
<text transform="translate(870.25,185.97) scale(1.2795,1)" font-family='"Liberation Sans", Arial, sans-serif' font-weight="700" font-size="17.61" fill="#1a1a1a">0</text>
<text transform="translate(906.93,185.97) scale(1.0866,1)" font-family='"Liberation Sans", Arial, sans-serif' font-weight="700" font-size="17.61" fill="#1a1a1a">20</text>
<text transform="translate(948.32,185.97) scale(1.0660,1)" font-family='"Liberation Sans", Arial, sans-serif' font-weight="700" font-size="17.61" fill="#1a1a1a">40</text>
<text transform="translate(988.93,185.97) scale(1.0866,1)" font-family='"Liberation Sans", Arial, sans-serif' font-weight="700" font-size="17.61" fill="#1a1a1a">60</text>
<text transform="translate(1030.03,185.97) scale(1.0814,1)" font-family='"Liberation Sans", Arial, sans-serif' font-weight="700" font-size="17.61" fill="#1a1a1a">80</text>
<text transform="translate(1065.78,185.97) scale(1.0598,1)" font-family='"Liberation Sans", Arial, sans-serif' font-weight="700" font-size="17.61" fill="#1a1a1a">100</text>
<text transform="translate(861.96,158.44) scale(1.3703,1)" font-family='"Liberation Sans", Arial, sans-serif' font-weight="700" font-size="15.77" fill="#1a1a1a">3</text>
<text transform="translate(862.20,110.25) scale(1.2321,1)" font-family='"Liberation Sans", Arial, sans-serif' font-weight="700" font-size="16.23" fill="#1a1a1a">4</text>
<text transform="translate(861.86,61.74) scale(1.3375,1)" font-family='"Liberation Sans", Arial, sans-serif' font-weight="700" font-size="16.00" fill="#1a1a1a">5</text>
<text transform="translate(926.99,215.47) scale(1.2097,1)" font-family='"Liberation Sans", Arial, sans-serif' font-weight="700" font-size="16.79" fill="#1a1a1a">Current (mA)</text>
<text transform="translate(855.44,153.00) rotate(-90) scale(1.1000,1)" font-family='"Liberation Sans", Arial, sans-serif' font-weight="700" font-size="18.40" fill="#1a1a1a">Votlage (V)</text>
<path d="M876.3,159.3 L877.1,157.5 L877.9,156.5 L878.8,155.8 L879.6,155.0 L880.4,154.4 L881.2,153.7 L882.0,153.1 L882.9,152.6 L883.7,152.0 L884.5,151.5 L885.3,151.0 L886.1,150.5 L887.0,150.0 L887.8,149.5 L888.6,149.0 L889.4,148.5 L890.2,148.1 L891.1,147.6 L891.9,147.2 L892.7,146.8 L893.5,146.4 L894.3,145.9 L895.2,145.5 L896.0,145.1 L896.8,144.7 L897.6,144.3 L898.4,143.9 L899.3,143.6 L900.1,143.2 L900.9,142.8 L901.7,142.4 L902.5,142.1 L903.4,141.7 L904.2,141.3 L905.0,141.0 L905.8,140.6 L906.6,140.3 L907.5,139.9 L908.3,139.6 L909.1,139.3 L909.9,138.9 L910.7,138.6 L911.6,138.3 L912.4,138.0 L913.2,137.6 L914.0,137.3 L914.8,137.0 L915.7,136.7 L916.5,136.4 L917.3,136.1 L918.1,135.8 L918.9,135.5 L919.8,135.2 L920.6,134.9 L921.4,134.6 L922.2,134.3 L923.0,134.0 L923.9,133.7 L924.7,133.5 L925.5,133.2 L926.3,132.9 L927.1,132.6 L928.0,132.3 L928.8,132.1 L929.6,131.8 L930.4,131.5 L931.2,131.3 L932.1,131.0 L932.9,130.8 L933.7,130.5 L934.5,130.2 L935.3,130.0 L936.2,129.7 L937.0,129.5 L937.8,129.2 L938.6,129.0 L939.4,128.8 L940.3,128.5 L941.1,128.3 L941.9,128.0 L942.7,127.8 L943.5,127.6 L944.4,127.3 L945.2,127.1 L946.0,126.9 L946.8,126.6 L947.6,126.4 L948.5,126.2 L949.3,126.0 L950.1,125.8 L950.9,125.5 L951.7,125.3 L952.6,125.1 L953.4,124.9 L954.2,124.7 L955.0,124.5 L955.8,124.3 L956.7,124.1 L957.5,123.8 L958.3,123.6 L959.1,123.4 L959.9,123.2 L960.8,123.0 L961.6,122.8 L962.4,122.7 L963.2,122.5 L964.0,122.3 L964.9,122.1 L965.7,121.9 L966.5,121.7 L967.3,121.5 L968.1,121.3 L969.0,121.1 L969.8,121.0 L970.6,120.8 L971.4,120.6 L972.2,120.4 L973.1,120.2 L973.9,120.1 L974.7,119.9 L975.5,119.7 L976.3,119.6 L977.2,119.4 L978.0,119.2 L978.8,119.1 L979.6,118.9 L980.4,118.7 L981.3,118.6 L982.1,118.4 L982.9,118.2 L983.7,118.1 L984.5,117.9 L985.4,117.8 L986.2,117.6 L987.0,117.5 L987.8,117.3 L988.6,117.2 L989.5,117.0 L990.3,116.9 L991.1,116.7 L991.9,116.6 L992.7,116.4 L993.6,116.3 L994.4,116.1 L995.2,116.0 L996.0,115.9 L996.8,115.7 L997.7,115.6 L998.5,115.4 L999.3,115.3 L1000.1,115.2 L1000.9,115.1 L1001.8,114.9 L1002.6,114.8 L1003.4,114.7 L1004.2,114.5 L1005.0,114.4 L1005.9,114.3 L1006.7,114.2 L1007.5,114.0 L1008.3,113.9 L1009.1,113.8 L1010.0,113.7 L1010.8,113.6 L1011.6,113.4 L1012.4,113.3 L1013.2,113.2 L1014.1,113.1 L1014.9,113.0 L1015.7,112.9 L1016.5,112.8 L1017.3,112.7 L1018.2,112.6 L1019.0,112.4 L1019.8,112.3 L1020.6,112.2 L1021.4,112.1 L1022.3,112.0 L1023.1,111.9 L1023.9,111.8 L1024.7,111.7 L1025.5,111.6 L1026.4,111.5 L1027.2,111.4 L1028.0,111.3 L1028.8,111.3 L1029.6,111.2 L1030.5,111.1 L1031.3,111.0 L1032.1,110.9 L1032.9,110.8 L1033.7,110.7 L1034.6,110.6 L1035.4,110.5 L1036.2,110.5 L1037.0,110.4 L1037.8,110.3 L1038.7,110.2 L1039.5,110.1 L1040.3,110.1 L1041.1,110.0 L1041.9,109.9 L1042.8,109.8 L1043.6,109.8 L1044.4,109.7 L1045.2,109.6 L1046.0,109.5 L1046.9,109.5 L1047.7,109.4 L1048.5,109.3 L1049.3,109.3 L1050.1,109.2 L1051.0,109.1 L1051.8,109.1 L1052.6,109.0 L1053.4,108.9 L1054.2,108.9 L1055.1,108.8 L1055.9,108.8 L1056.7,108.7 L1057.5,108.6 L1058.3,108.6 L1059.2,108.5 L1060.0,108.5 L1060.8,108.4 L1061.6,108.4 L1062.4,108.3 L1063.3,108.3 L1064.1,108.2 L1064.9,108.2 L1065.7,108.1 L1066.5,108.1 L1067.4,108.0 L1068.2,108.0 L1069.0,107.9 L1069.8,107.9 L1070.6,107.8 L1071.5,107.8 L1072.3,107.8 L1073.1,107.7 L1073.9,107.7 L1074.7,107.6 L1075.6,107.6 L1076.4,107.6 L1077.2,107.5 L1078.0,107.5 L1078.8,107.5 L1079.7,107.4 L1080.5,107.4 L1081.3,107.4 L1082.1,107.3 L1082.9,107.3 L1083.8,107.3 L1084.6,107.2 L1085.4,107.2 L1086.2,107.2 L1087.0,107.2 L1087.9,107.1 L1088.7,107.1 L1089.5,107.1 L1090.3,107.1 L1091.1,107.1 L1092.0,107.0 L1092.8,107.0 L1093.6,107.0 L1094.4,107.0 L1095.2,107.0 L1096.1,106.9 L1096.9,106.9 L1097.7,106.9 L1098.5,106.9 L1099.3,106.9 L1100.2,106.9 L1100.8,106.9" fill="none" stroke="#111" stroke-width="3.3" stroke-linecap="round" stroke-dasharray="0 6.990" stroke-dashoffset="-5.19"/>
<path d="M876.3,155.4 L877.1,152.1 L877.9,150.2 L878.8,148.6 L879.6,147.1 L880.4,145.8 L881.2,144.6 L882.0,143.5 L882.9,142.4 L883.7,141.4 L884.5,140.4 L885.3,139.5 L886.1,138.6 L887.0,137.8 L887.8,137.0 L888.6,136.2 L889.4,135.5 L890.2,134.8 L891.1,134.1 L891.9,133.5 L892.7,132.8 L893.5,132.2 L894.3,131.6 L895.2,131.0 L896.0,130.5 L896.8,129.9 L897.6,129.4 L898.4,128.8 L899.3,128.3 L900.1,127.8 L900.9,127.3 L901.7,126.8 L902.5,126.4 L903.4,125.9 L904.2,125.4 L905.0,125.0 L905.8,124.5 L906.6,124.1 L907.5,123.7 L908.3,123.3 L909.1,122.8 L909.9,122.4 L910.7,122.0 L911.6,121.6 L912.4,121.2 L913.2,120.9 L914.0,120.5 L914.8,120.1 L915.7,119.7 L916.5,119.4 L917.3,119.0 L918.1,118.6 L918.9,118.3 L919.8,117.9 L920.6,117.6 L921.4,117.3 L922.2,116.9 L923.0,116.6 L923.9,116.3 L924.7,115.9 L925.5,115.6 L926.3,115.3 L927.1,115.0 L928.0,114.7 L928.8,114.4 L929.6,114.1 L930.4,113.8 L931.2,113.5 L932.1,113.2 L932.9,112.9 L933.7,112.6 L934.5,112.3 L935.3,112.0 L936.2,111.7 L937.0,111.4 L937.8,111.2 L938.6,110.9 L939.4,110.6 L940.3,110.3 L941.1,110.1 L941.9,109.8 L942.7,109.5 L943.5,109.3 L944.4,109.0 L945.2,108.7 L946.0,108.5 L946.8,108.2 L947.6,108.0 L948.5,107.7 L949.3,107.5 L950.1,107.2 L950.9,107.0 L951.7,106.7 L952.6,106.5 L953.4,106.2 L954.2,106.0 L955.0,105.8 L955.8,105.5 L956.7,105.3 L957.5,105.1 L958.3,104.8 L959.1,104.6 L959.9,104.4 L960.8,104.1 L961.6,103.9 L962.4,103.7 L963.2,103.5 L964.0,103.2 L964.9,103.0 L965.7,102.8 L966.5,102.6 L967.3,102.3 L968.1,102.1 L969.0,101.9 L969.8,101.7 L970.6,101.5 L971.4,101.3 L972.2,101.1 L973.1,100.9 L973.9,100.6 L974.7,100.4 L975.5,100.2 L976.3,100.0 L977.2,99.8 L978.0,99.6 L978.8,99.4 L979.6,99.2 L980.4,99.0 L981.3,98.8 L982.1,98.6 L982.9,98.4 L983.7,98.2 L984.5,98.0 L985.4,97.8 L986.2,97.6 L987.0,97.4 L987.8,97.2 L988.6,97.0 L989.5,96.9 L990.3,96.7 L991.1,96.5 L991.9,96.3 L992.7,96.1 L993.6,95.9 L994.4,95.7 L995.2,95.5 L996.0,95.4 L996.8,95.2 L997.7,95.0 L998.5,94.8 L999.3,94.6 L1000.1,94.4 L1000.9,94.3 L1001.8,94.1 L1002.6,93.9 L1003.4,93.7 L1004.2,93.5 L1005.0,93.4 L1005.9,93.2 L1006.7,93.0 L1007.5,92.8 L1008.3,92.7 L1009.1,92.5 L1010.0,92.3 L1010.8,92.2 L1011.6,92.0 L1012.4,91.8 L1013.2,91.6 L1014.1,91.5 L1014.9,91.3 L1015.7,91.1 L1016.5,91.0 L1017.3,90.8 L1018.2,90.6 L1019.0,90.5 L1019.8,90.3 L1020.6,90.1 L1021.4,90.0 L1022.3,89.8 L1023.1,89.7 L1023.9,89.5 L1024.7,89.3 L1025.5,89.2 L1026.4,89.0 L1027.2,88.9 L1028.0,88.7 L1028.8,88.5 L1029.6,88.4 L1030.5,88.2 L1031.3,88.1 L1032.1,87.9 L1032.9,87.8 L1033.7,87.6 L1034.6,87.4 L1035.4,87.3 L1036.2,87.1 L1037.0,87.0 L1037.8,86.8 L1038.7,86.7 L1039.5,86.5 L1040.3,86.4 L1041.1,86.2 L1041.9,86.1 L1042.8,85.9 L1043.6,85.8 L1044.4,85.6 L1045.2,85.5 L1046.0,85.3 L1046.9,85.2 L1047.7,85.1 L1048.5,84.9 L1049.3,84.8 L1050.1,84.6 L1051.0,84.5 L1051.8,84.3 L1052.6,84.2 L1053.4,84.1 L1054.2,83.9 L1055.1,83.8 L1055.9,83.6 L1056.7,83.5 L1057.5,83.3 L1058.3,83.2 L1059.2,83.1 L1060.0,82.9 L1060.8,82.8 L1061.6,82.7 L1062.4,82.5 L1063.3,82.4 L1064.1,82.3 L1064.9,82.1 L1065.7,82.0 L1066.5,81.8 L1067.4,81.7 L1068.2,81.6 L1069.0,81.4 L1069.8,81.3 L1070.6,81.2 L1071.5,81.1 L1072.3,80.9 L1073.1,80.8 L1073.9,80.7 L1074.7,80.5 L1075.6,80.4 L1076.4,80.3 L1077.2,80.1 L1078.0,80.0 L1078.8,79.9 L1079.7,79.8 L1080.5,79.6 L1081.3,79.5 L1082.1,79.4 L1082.9,79.3 L1083.8,79.1 L1084.6,79.0 L1085.4,78.9 L1086.2,78.8 L1087.0,78.6 L1087.9,78.5 L1088.7,78.4 L1089.5,78.3 L1090.3,78.2 L1091.1,78.0 L1092.0,77.9 L1092.8,77.8 L1093.6,77.7 L1094.4,77.6 L1095.2,77.4 L1095.6,77.4" fill="none" stroke="#1f3ff5" stroke-width="4.2" stroke-dasharray="19.5 8.71 3 8.71" stroke-dashoffset="30.30"/>
<path d="M876.7,140.9 L877.5,137.9 L878.3,135.5 L879.2,133.4 L880.0,131.5 L880.8,129.7 L881.6,128.0 L882.4,126.4 L883.3,124.8 L884.1,123.3 L884.9,121.9 L885.7,120.5 L886.5,119.1 L887.4,117.8 L888.2,116.5 L889.0,115.3 L889.8,114.0 L890.6,112.9 L891.5,111.7 L892.3,110.6 L893.1,109.5 L893.9,108.4 L894.8,107.3 L895.6,106.3 L896.4,105.3 L897.2,104.3 L898.0,103.3 L898.8,102.3 L899.7,101.4 L900.5,100.5 L901.3,99.6 L902.1,98.7 L902.9,97.8 L903.8,97.0 L904.6,96.2 L905.4,95.3 L906.2,94.5 L907.0,93.8 L907.9,93.0 L908.7,92.2 L909.5,91.5 L910.3,90.8 L911.1,90.0 L912.0,89.3 L912.8,88.6 L913.6,88.0 L914.4,87.3 L915.2,86.7 L916.1,86.0 L916.9,85.4 L917.7,84.8 L918.5,84.2 L919.3,83.6 L920.2,83.0 L921.0,82.4 L921.8,81.9 L922.6,81.3 L923.4,80.8 L924.3,80.2 L925.1,79.7 L925.9,79.2 L926.7,78.7 L927.5,78.1 L928.4,77.6 L929.2,77.2 L930.0,76.7 L930.8,76.2 L931.6,75.7 L932.5,75.3 L933.3,74.8 L934.1,74.3 L934.9,73.9 L935.8,73.5 L936.6,73.0 L937.4,72.6 L938.2,72.2 L939.0,71.7 L939.9,71.3 L940.7,70.9 L941.5,70.5 L942.3,70.1 L943.1,69.7 L943.9,69.3 L944.8,68.9 L945.6,68.5 L946.4,68.1 L947.2,67.8 L948.0,67.4 L948.9,67.0 L949.7,66.6 L950.5,66.3 L951.3,65.9 L952.1,65.6 L953.0,65.2 L953.8,64.9 L954.6,64.5 L955.4,64.2 L956.2,63.8 L957.1,63.5 L957.9,63.1 L958.7,62.8 L959.5,62.5 L960.4,62.1 L961.2,61.8 L962.0,61.5 L962.8,61.2 L963.6,60.8 L964.4,60.5 L965.3,60.2 L966.1,59.9 L966.9,59.6 L967.7,59.3 L968.5,59.0 L969.4,58.7 L970.2,58.4 L971.0,58.1 L971.8,57.8 L972.6,57.5 L973.5,57.2 L974.3,56.9 L975.1,56.6 L975.9,56.3 L976.8,56.0 L977.6,55.7 L978.4,55.4 L979.2,55.1 L980.0,54.8 L980.9,54.6 L981.7,54.3 L982.5,54.0 L983.3,53.7 L984.1,53.4 L985.0,53.2 L985.8,52.9 L986.6,52.6 L987.4,52.3 L988.2,52.1 L989.0,51.8 L989.9,51.5 L990.7,51.3 L991.5,51.0 L992.3,50.7 L993.1,50.5 L994.0,50.2 L994.8,49.9 L995.6,49.7 L996.4,49.4 L997.2,49.2 L998.1,48.9 L998.9,48.6 L999.7,48.4 L1000.5,48.1 L1001.4,47.9 L1002.2,47.6 L1003.0,47.4 L1003.8,47.1 L1004.6,46.9 L1005.5,46.6 L1006.3,46.4 L1007.1,46.1 L1007.9,45.9 L1008.7,45.6 L1009.5,45.4 L1010.4,45.2 L1011.2,44.9 L1012.0,44.7 L1012.8,44.4 L1013.6,44.2 L1014.5,44.0 L1015.3,43.7 L1016.1,43.5 L1016.9,43.3 L1017.8,43.0 L1018.6,42.8 L1019.4,42.6 L1020.2,42.3 L1021.0,42.1 L1021.9,41.9 L1022.7,41.6 L1023.5,41.4 L1024.3,41.2 L1025.1,40.9 L1026.0,40.7 L1026.8,40.5 L1027.6,40.3 L1028.4,40.0 L1029.2,39.8 L1030.0,39.6 L1030.9,39.4 L1031.7,39.2 L1032.5,38.9 L1033.3,38.7 L1034.2,38.5 L1035.0,38.3 L1035.8,38.1 L1036.6,37.9 L1037.4,37.6 L1038.2,37.4 L1039.1,37.2 L1039.9,37.0 L1040.7,36.8 L1041.5,36.6 L1042.3,36.4 L1043.2,36.1 L1044.0,35.9 L1044.8,35.7 L1045.6,35.5 L1046.5,35.3 L1047.3,35.1 L1048.1,34.9 L1048.9,34.7 L1049.7,34.5 L1050.5,34.3 L1051.4,34.1 L1052.2,33.9 L1053.0,33.7 L1053.8,33.5 L1054.7,33.3 L1055.5,33.1 L1056.3,32.9 L1057.1,32.7 L1057.9,32.5 L1058.8,32.3 L1059.6,32.1 L1060.4,31.9 L1061.2,31.7 L1062.0,31.5 L1062.8,31.3 L1063.7,31.1 L1064.5,30.9 L1065.3,30.7 L1066.1,30.5 L1067.0,30.3 L1067.8,30.1 L1068.6,29.9 L1069.4,29.7 L1070.2,29.6 L1071.0,29.4 L1071.9,29.2 L1072.7,29.0 L1073.5,28.8 L1074.3,28.6 L1075.2,28.4 L1076.0,28.2 L1076.8,28.0 L1077.6,27.9 L1078.4,27.7 L1079.2,27.5 L1080.1,27.3 L1080.9,27.1 L1081.7,26.9 L1082.5,26.8 L1083.3,26.6 L1084.2,26.4 L1085.0,26.2 L1085.8,26.0 L1086.6,25.9 L1087.5,25.7 L1088.3,25.5 L1089.1,25.3 L1089.9,25.1 L1090.7,25.0 L1091.5,24.8 L1092.4,24.6 L1093.2,24.4 L1094.0,24.3 L1094.8,24.1 L1095.7,23.9 L1096.5,23.7 L1097.3,23.6 L1098.1,23.4 L1098.9,23.2 L1099.8,23.0 L1100.6,22.9 L1101.4,22.7 L1101.8,22.6" fill="none" stroke="#ee1c25" stroke-width="4" stroke-dasharray="0.00 0.00 19.47 24.67 20.00 26.80 20.00 22.58 20.00 20.75 20.00 19.81 20.00 18.03 20.00 1000.00 0.00"/>
<path d="M876.3,150.1 L877.1,145.2 L877.9,143.2 L878.8,141.6 L879.6,140.3 L880.4,139.1 L881.2,138.0 L882.0,137.0 L882.9,136.1 L883.7,135.2 L884.5,134.4 L885.3,133.6 L886.1,132.9 L887.0,132.2 L887.8,131.5 L888.6,130.8 L889.4,130.2 L890.2,129.5 L891.1,128.9 L891.9,128.3 L892.7,127.8 L893.5,127.2 L894.3,126.6 L895.2,126.1 L896.0,125.6 L896.8,125.1 L897.6,124.6 L898.4,124.1 L899.3,123.6 L900.1,123.1 L900.9,122.6 L901.7,122.2 L902.5,121.7 L903.4,121.3 L904.2,120.8 L905.0,120.4 L905.8,120.0 L906.6,119.5 L907.5,119.1 L908.3,118.7 L909.1,118.3 L909.9,117.9 L910.7,117.5 L911.6,117.1 L912.4,116.7 L913.2,116.4 L914.0,116.0 L914.8,115.6 L915.7,115.2 L916.5,114.9 L917.3,114.5 L918.1,114.2 L918.9,113.8 L919.8,113.5 L920.6,113.1 L921.4,112.8 L922.2,112.4 L923.0,112.1 L923.9,111.8 L924.7,111.5 L925.5,111.1 L926.3,110.8 L927.1,110.5 L928.0,110.2 L928.8,109.9 L929.6,109.5 L930.4,109.2 L931.2,108.9 L932.1,108.6 L932.9,108.3 L933.7,108.0 L934.5,107.7 L935.3,107.4 L936.2,107.1 L937.0,106.9 L937.8,106.6 L938.6,106.3 L939.4,106.0 L940.3,105.7 L941.1,105.4 L941.9,105.2 L942.7,104.9 L943.5,104.6 L944.4,104.3 L945.2,104.1 L946.0,103.8 L946.8,103.5 L947.6,103.3 L948.5,103.0 L949.3,102.8 L950.1,102.5 L950.9,102.2 L951.7,102.0 L952.6,101.7 L953.4,101.5 L954.2,101.2 L955.0,101.0 L955.8,100.7 L956.7,100.5 L957.5,100.3 L958.3,100.0 L959.1,99.8 L959.9,99.5 L960.8,99.3 L961.6,99.1 L962.4,98.8 L963.2,98.6 L964.0,98.4 L964.9,98.1 L965.7,97.9 L966.5,97.7 L967.3,97.4 L968.1,97.2 L969.0,97.0 L969.8,96.8 L970.6,96.5 L971.4,96.3 L972.2,96.1 L973.1,95.9 L973.9,95.7 L974.7,95.5 L975.5,95.2 L976.3,95.0 L977.2,94.8 L978.0,94.6 L978.8,94.4 L979.6,94.2 L980.4,94.0 L981.3,93.8 L982.1,93.6 L982.9,93.4 L983.7,93.2 L984.5,93.0 L985.4,92.8 L986.2,92.6 L987.0,92.4 L987.8,92.2 L988.6,92.0 L989.5,91.8 L990.3,91.6 L991.1,91.4 L991.9,91.2 L992.7,91.0 L993.6,90.8 L994.4,90.6 L995.2,90.4 L996.0,90.2 L996.8,90.1 L997.7,89.9 L998.5,89.7 L999.3,89.5 L1000.1,89.3 L1000.9,89.1 L1001.8,88.9 L1002.6,88.8 L1003.4,88.6 L1004.2,88.4 L1005.0,88.2 L1005.9,88.1 L1006.7,87.9 L1007.5,87.7 L1008.3,87.5 L1009.1,87.3 L1010.0,87.2 L1010.8,87.0 L1011.6,86.8 L1012.4,86.7 L1013.2,86.5 L1014.1,86.3 L1014.9,86.1 L1015.7,86.0 L1016.5,85.8 L1017.3,85.6 L1018.2,85.5 L1019.0,85.3 L1019.8,85.2 L1020.6,85.0 L1021.4,84.8 L1022.3,84.7 L1023.1,84.5 L1023.9,84.3 L1024.7,84.2 L1025.5,84.0 L1026.4,83.9 L1027.2,83.7 L1028.0,83.5 L1028.8,83.4 L1029.6,83.2 L1030.5,83.1 L1031.3,82.9 L1032.1,82.8 L1032.9,82.6 L1033.7,82.5 L1034.6,82.3 L1035.4,82.2 L1036.2,82.0 L1037.0,81.9 L1037.8,81.7 L1038.7,81.6 L1039.5,81.4 L1040.3,81.3 L1041.1,81.1 L1041.9,81.0 L1042.8,80.8 L1043.6,80.7 L1044.4,80.5 L1045.2,80.4 L1046.0,80.3 L1046.9,80.1 L1047.7,80.0 L1048.5,79.8 L1049.3,79.7 L1050.1,79.5 L1051.0,79.4 L1051.8,79.3 L1052.6,79.1 L1053.4,79.0 L1054.2,78.9 L1055.1,78.7 L1055.9,78.6 L1056.7,78.4 L1057.5,78.3 L1058.3,78.2 L1059.2,78.0 L1060.0,77.9 L1060.8,77.8 L1061.6,77.6 L1062.4,77.5 L1063.3,77.4 L1064.1,77.3 L1064.9,77.1 L1065.7,77.0 L1066.5,76.9 L1067.4,76.7 L1068.2,76.6 L1069.0,76.5 L1069.8,76.4 L1070.6,76.2 L1071.5,76.1 L1072.3,76.0 L1073.1,75.8 L1073.9,75.7 L1074.7,75.6 L1075.6,75.5 L1076.4,75.4 L1077.2,75.2 L1078.0,75.1 L1078.8,75.0 L1079.7,74.9 L1080.5,74.7 L1081.3,74.6 L1082.1,74.5 L1082.9,74.4 L1083.8,74.3 L1084.6,74.2 L1085.4,74.0 L1086.2,73.9 L1087.0,73.8 L1087.9,73.7 L1088.7,73.6 L1089.5,73.5 L1090.3,73.3 L1091.1,73.2 L1092.0,73.1 L1092.8,73.0 L1093.6,72.9 L1094.4,72.8 L1095.2,72.7 L1096.1,72.6 L1096.9,72.4 L1097.7,72.3 L1098.5,72.2 L1099.3,72.1 L1100.2,72.0 L1101.0,71.9 L1101.8,71.8" fill="none" stroke="#3db54a" stroke-width="2.6"/>
<text transform="translate(1052.96,47.22) scale(1.0968,1)" font-family='"Liberation Sans", Arial, sans-serif' font-weight="700" font-size="18.93" fill="#ee1c25">(d)</text>
<text transform="translate(1052.91,68.72) scale(1.2467,1)" font-family='"Liberation Sans", Arial, sans-serif' font-weight="700" font-size="17.54" fill="#3db54a">(c)</text>
<text transform="translate(1052.44,101.34) scale(1.2202,1)" font-family='"Liberation Sans", Arial, sans-serif' font-weight="700" font-size="17.43" fill="#1f3ff5">(b)</text>
<text transform="translate(1051.06,133.94) scale(1.3104,1)" font-family='"Liberation Sans", Arial, sans-serif' font-weight="700" font-size="17.43" fill="#2a2a2a">(a)</text>
<rect x="104.90" y="522.40" width="188.50" height="51.80" fill="#bdcaca" stroke="#7f8b8b" stroke-width="1.8"/>
<rect x="105.70" y="538.3" width="21.90" height="35.3" rx="2.2" fill="#b3bbbb" stroke="#7c8888" stroke-width="1.8"/>
<rect x="106.60" y="539.20" width="20.10" height="16.60" fill="#eef0f0" stroke="none" stroke-width="0"/>
<line x1="105.70" y1="556.80" x2="127.60" y2="556.80" stroke="#7c8888" stroke-width="1.6"/>
<rect x="188.10" y="538.3" width="23.10" height="35.3" rx="2.2" fill="#b3bbbb" stroke="#7c8888" stroke-width="1.8"/>
<rect x="189.00" y="539.20" width="21.30" height="16.60" fill="#eef0f0" stroke="none" stroke-width="0"/>
<line x1="188.10" y1="556.80" x2="211.20" y2="556.80" stroke="#7c8888" stroke-width="1.6"/>
<rect x="270.60" y="538.3" width="22.00" height="35.3" rx="2.2" fill="#b3bbbb" stroke="#7c8888" stroke-width="1.8"/>
<rect x="271.50" y="539.20" width="20.20" height="16.60" fill="#eef0f0" stroke="none" stroke-width="0"/>
<line x1="270.60" y1="556.80" x2="292.60" y2="556.80" stroke="#7c8888" stroke-width="1.6"/>
<polyline points="100.3,574.2 300.3,574.2 300.3,713.5 492.5,713.5 492.5,943.7 100.3,943.7 100.3,574.2" fill="none" stroke="#7f8d8d" stroke-width="2"/>
<line x1="100.30" y1="613.10" x2="300.30" y2="613.10" stroke="#7f8d8d" stroke-width="2"/>
<line x1="100.30" y1="652.00" x2="300.30" y2="652.00" stroke="#7f8d8d" stroke-width="2"/>
<line x1="100.30" y1="689.70" x2="300.30" y2="689.70" stroke="#556060" stroke-width="2.6"/>
<line x1="100.30" y1="752.50" x2="492.50" y2="752.50" stroke="#7f8d8d" stroke-width="2"/>
<line x1="100.30" y1="790.70" x2="492.50" y2="790.70" stroke="#7f8d8d" stroke-width="2"/>
<line x1="100.30" y1="829.00" x2="492.50" y2="829.00" stroke="#7f8d8d" stroke-width="2"/>
<rect x="314.00" y="680.20" width="151.50" height="32.40" fill="#bdcaca" stroke="#8a9595" stroke-width="1.5"/>
<rect x="314.00" y="694.80" width="21.90" height="17.80" fill="#a9b0b0" stroke="#8a9595" stroke-width="1"/>
<line x1="521.90" y1="543.10" x2="294.90" y2="543.10" stroke="#6f7f7f" stroke-width="2"/>
<polygon points="285.90,543.10 295.90,538.90 295.90,547.30" fill="#263030"/>
<line x1="521.90" y1="562.50" x2="294.90" y2="562.50" stroke="#6f7f7f" stroke-width="2"/>
<polygon points="285.90,562.50 295.90,558.30 295.90,566.70" fill="#263030"/>
<line x1="521.90" y1="704.00" x2="342.50" y2="704.00" stroke="#6f7f7f" stroke-width="2"/>
<polygon points="333.50,704.00 343.50,699.80 343.50,708.20" fill="#263030"/>
<line x1="402.60" y1="617.40" x2="253.40" y2="559.84" stroke="#6f7f7f" stroke-width="1.8"/>
<polygon points="245.00,556.60 255.84,556.28 252.82,564.12" fill="#263030"/>
<line x1="524.50" y1="632.00" x2="413.22" y2="688.81" stroke="#6f7f7f" stroke-width="1.8"/>
<polygon points="405.20,692.90 412.20,684.61 416.02,692.09" fill="#263030"/>
<text transform="translate(152.86,601.84) scale(1.1562,1)" font-family='"Liberation Serif", "Times New Roman", serif' font-weight="400" font-size="19.34" fill="#333" stroke="#333" stroke-width="0.45">p-AlGaN</text>
<text transform="translate(177.19,638.89) scale(1.1026,1)" font-family='"Liberation Serif", "Times New Roman", serif' font-weight="400" font-size="21.36" fill="#333" stroke="#333" stroke-width="0.45">EBL</text>
<text transform="translate(141.18,676.25) scale(1.1590,1)" font-family='"Liberation Serif", "Times New Roman", serif' font-weight="400" font-size="18.86" fill="#333" stroke="#333" stroke-width="0.45">Active Layer</text>
<text transform="translate(244.85,738.90) scale(1.0685,1)" font-family='"Liberation Serif", "Times New Roman", serif' font-weight="400" font-size="21.01" fill="#333" stroke="#333" stroke-width="0.45">n-AlGaN</text>
<text transform="translate(244.96,779.40) scale(1.1984,1)" font-family='"Liberation Serif", "Times New Roman", serif' font-weight="400" font-size="18.71" fill="#333" stroke="#333" stroke-width="0.45">u-AlGaN</text>
<text transform="translate(245.23,821.50) scale(0.9559,1)" font-family='"Liberation Serif", "Times New Roman", serif' font-weight="400" font-size="23.31" fill="#333" stroke="#333" stroke-width="0.45">HT-AlN</text>
<text transform="translate(244.42,893.20) scale(1.0567,1)" font-family='"Liberation Serif", "Times New Roman", serif' font-weight="400" font-size="21.58" fill="#333" stroke="#333" stroke-width="0.45">Sapphire</text>
<text transform="translate(530.77,543.50) scale(1.0219,1)" font-family='"Liberation Serif", "Times New Roman", serif' font-weight="400" font-size="21.77" fill="#333" stroke="#333" stroke-width="0.45">p-contact</text>
<text transform="translate(530.77,565.70) scale(1.2229,1)" font-family='"Liberation Serif", "Times New Roman", serif' font-weight="400" font-size="18.18" fill="#333" stroke="#333" stroke-width="0.45">p-GaN</text>
<text transform="translate(411.13,630.60) scale(0.9910,1)" font-family='"Liberation Serif", "Times New Roman", serif' font-weight="400" font-size="22.55" fill="#333" stroke="#333" stroke-width="0.45">Reflective Electrode</text>
<text transform="translate(530.65,707.50) scale(1.0577,1)" font-family='"Liberation Serif", "Times New Roman", serif' font-weight="400" font-size="21.06" fill="#333" stroke="#333" stroke-width="0.45">n-contact</text>
<text transform="translate(8.40,532.73) scale(1.0912,1)" font-family='"Liberation Sans", Arial, sans-serif' font-weight="700" font-size="40.32" fill="#111">(c)</text>
<rect x="810.3" y="536.6" width="526.6" height="364.3" fill="none" stroke="#2b3333" stroke-width="2.2"/>
<line x1="810.30" y1="809.82" x2="816.50" y2="809.82" stroke="#2b3333" stroke-width="1.5"/>
<line x1="810.30" y1="718.74" x2="816.50" y2="718.74" stroke="#2b3333" stroke-width="1.5"/>
<line x1="810.30" y1="627.66" x2="816.50" y2="627.66" stroke="#2b3333" stroke-width="1.5"/>
<line x1="941.80" y1="900.90" x2="941.80" y2="894.70" stroke="#2b3333" stroke-width="1.5"/>
<line x1="1073.30" y1="900.90" x2="1073.30" y2="894.70" stroke="#2b3333" stroke-width="1.5"/>
<line x1="1204.80" y1="900.90" x2="1204.80" y2="894.70" stroke="#2b3333" stroke-width="1.5"/>
<text transform="translate(785.73,906.86) scale(1.0000,1)" font-family='"Liberation Serif", "Times New Roman", serif' font-weight="400" font-size="24.30" fill="#222" stroke="#222" stroke-width="0.45">0</text>
<text transform="translate(785.71,816.02) scale(1.0000,1)" font-family='"Liberation Serif", "Times New Roman", serif' font-weight="400" font-size="24.85" fill="#222" stroke="#222" stroke-width="0.45">2</text>
<text transform="translate(785.53,724.94) scale(1.0000,1)" font-family='"Liberation Serif", "Times New Roman", serif' font-weight="400" font-size="24.85" fill="#222" stroke="#222" stroke-width="0.45">4</text>
<text transform="translate(785.56,633.62) scale(1.0000,1)" font-family='"Liberation Serif", "Times New Roman", serif' font-weight="400" font-size="24.48" fill="#222" stroke="#222" stroke-width="0.45">6</text>
<text transform="translate(785.73,542.54) scale(1.0000,1)" font-family='"Liberation Serif", "Times New Roman", serif' font-weight="400" font-size="24.30" fill="#222" stroke="#222" stroke-width="0.45">8</text>
<text transform="translate(803.93,935.15) scale(1.0000,1)" font-family='"Liberation Serif", "Times New Roman", serif' font-weight="400" font-size="25.48" fill="#222" stroke="#222" stroke-width="0.45">0</text>
<text transform="translate(935.08,935.14) scale(1.0000,1)" font-family='"Liberation Serif", "Times New Roman", serif' font-weight="400" font-size="25.86" fill="#222" stroke="#222" stroke-width="0.45">5</text>
<text transform="translate(1059.99,935.15) scale(1.0000,1)" font-family='"Liberation Serif", "Times New Roman", serif' font-weight="400" font-size="25.48" fill="#222" stroke="#222" stroke-width="0.45">10</text>
<text transform="translate(1191.39,935.14) scale(1.0000,1)" font-family='"Liberation Serif", "Times New Roman", serif' font-weight="400" font-size="25.67" fill="#222" stroke="#222" stroke-width="0.45">15</text>
<text transform="translate(1323.50,935.15) scale(1.0000,1)" font-family='"Liberation Serif", "Times New Roman", serif' font-weight="400" font-size="25.48" fill="#222" stroke="#222" stroke-width="0.45">20</text>
<text transform="translate(992.59,971.09) scale(1.1035,1)" font-family='"Liberation Serif", "Times New Roman", serif' font-weight="400" font-size="27.47" fill="#222" stroke="#222" stroke-width="0.45">Current (mA)</text>
<text transform="translate(759.96,835.18) rotate(-90) scale(1.1035,1)" font-family='"Liberation Serif", "Times New Roman", serif' font-weight="400" font-size="26.70" fill="#222" stroke="#222" stroke-width="0.45">Forward voltage (V)</text>
<text transform="translate(726.06,532.20) scale(1.0468,1)" font-family='"Liberation Sans", Arial, sans-serif' font-weight="700" font-size="40.96" fill="#111">(d)</text>
<line x1="835.20" y1="559.60" x2="896.00" y2="559.60" stroke="#1a1a1a" stroke-width="2.2"/>
<line x1="836.20" y1="583.90" x2="895.00" y2="583.90" stroke="#444" stroke-width="2.4" stroke-dasharray="11 4.4"/>
<text transform="translate(901.10,562.70) scale(1.1773,1)" font-family='"Liberation Serif", "Times New Roman", serif' font-weight="400" font-size="14.61" fill="#222" stroke="#222" stroke-width="0.45">with reflective electrodes</text>
<text transform="translate(901.10,588.50) scale(1.0619,1)" font-family='"Liberation Serif", "Times New Roman", serif' font-weight="400" font-size="16.17" fill="#222" stroke="#222" stroke-width="0.45">without reflective electrodes</text>
<path d="M810.70,732.00 C810.83,730.08 810.78,723.85 811.50,720.50 C812.22,717.15 813.22,715.02 815.00,711.90 C816.78,708.78 819.08,705.38 822.20,701.80 C825.32,698.22 829.38,693.75 833.70,690.40 C838.02,687.05 843.32,684.47 848.10,681.70 C852.88,678.93 860.02,675.12 862.40,673.80 L941.4,647.3 L1074.7,614.9 L1337,569.5" fill="none" stroke="#2a3030" stroke-width="2"/>
<path d="M810.70,733.00 C810.83,731.17 810.78,725.25 811.50,722.00 C812.22,718.75 813.22,716.58 815.00,713.50 C816.78,710.42 819.08,707.00 822.20,703.50 C825.32,700.00 829.38,695.67 833.70,692.50 C838.02,689.33 843.32,687.13 848.10,684.50 C852.88,681.87 855.22,679.55 862.40,676.70 C869.58,673.85 881.62,670.38 891.20,667.40 C900.78,664.42 910.33,661.32 919.90,658.80 C929.47,656.28 922.80,657.53 948.60,652.30 C974.40,647.07 1010.68,637.65 1074.70,627.40 C1138.72,617.15 1289.70,596.90 1332.70,590.80" fill="none" stroke="#3a4242" stroke-width="2.2" stroke-dasharray="10.5 5.2"/>
<rect x="1061.50" y="680.60" width="235.70" height="140.70" fill="none" stroke="#6e7c7c" stroke-width="1.5"/>
<line x1="1140.07" y1="821.30" x2="1140.07" y2="817.50" stroke="#6e7c7c" stroke-width="1.2"/>
<line x1="1218.64" y1="821.30" x2="1218.64" y2="817.50" stroke="#6e7c7c" stroke-width="1.2"/>
<line x1="1297.21" y1="821.30" x2="1297.21" y2="817.50" stroke="#6e7c7c" stroke-width="1.2"/>
<line x1="1061.50" y1="821.30" x2="1065.50" y2="821.30" stroke="#6e7c7c" stroke-width="1"/>
<line x1="1061.50" y1="807.66" x2="1063.70" y2="807.66" stroke="#6e7c7c" stroke-width="1"/>
<line x1="1061.50" y1="799.69" x2="1063.70" y2="799.69" stroke="#6e7c7c" stroke-width="1"/>
<line x1="1061.50" y1="794.03" x2="1063.70" y2="794.03" stroke="#6e7c7c" stroke-width="1"/>
<line x1="1061.50" y1="789.64" x2="1063.70" y2="789.64" stroke="#6e7c7c" stroke-width="1"/>
<line x1="1061.50" y1="786.05" x2="1063.70" y2="786.05" stroke="#6e7c7c" stroke-width="1"/>
<line x1="1061.50" y1="783.02" x2="1063.70" y2="783.02" stroke="#6e7c7c" stroke-width="1"/>
<line x1="1061.50" y1="780.39" x2="1063.70" y2="780.39" stroke="#6e7c7c" stroke-width="1"/>
<line x1="1061.50" y1="778.07" x2="1063.70" y2="778.07" stroke="#6e7c7c" stroke-width="1"/>
<line x1="1061.50" y1="776.00" x2="1065.50" y2="776.00" stroke="#6e7c7c" stroke-width="1"/>
<line x1="1061.50" y1="762.36" x2="1063.70" y2="762.36" stroke="#6e7c7c" stroke-width="1"/>
<line x1="1061.50" y1="754.39" x2="1063.70" y2="754.39" stroke="#6e7c7c" stroke-width="1"/>
<line x1="1061.50" y1="748.73" x2="1063.70" y2="748.73" stroke="#6e7c7c" stroke-width="1"/>
<line x1="1061.50" y1="744.34" x2="1063.70" y2="744.34" stroke="#6e7c7c" stroke-width="1"/>
<line x1="1061.50" y1="740.75" x2="1063.70" y2="740.75" stroke="#6e7c7c" stroke-width="1"/>
<line x1="1061.50" y1="737.72" x2="1063.70" y2="737.72" stroke="#6e7c7c" stroke-width="1"/>
<line x1="1061.50" y1="735.09" x2="1063.70" y2="735.09" stroke="#6e7c7c" stroke-width="1"/>
<line x1="1061.50" y1="732.77" x2="1063.70" y2="732.77" stroke="#6e7c7c" stroke-width="1"/>
<line x1="1061.50" y1="730.70" x2="1065.50" y2="730.70" stroke="#6e7c7c" stroke-width="1"/>
<line x1="1061.50" y1="717.06" x2="1063.70" y2="717.06" stroke="#6e7c7c" stroke-width="1"/>
<line x1="1061.50" y1="709.09" x2="1063.70" y2="709.09" stroke="#6e7c7c" stroke-width="1"/>
<line x1="1061.50" y1="703.43" x2="1063.70" y2="703.43" stroke="#6e7c7c" stroke-width="1"/>
<line x1="1061.50" y1="699.04" x2="1063.70" y2="699.04" stroke="#6e7c7c" stroke-width="1"/>
<line x1="1061.50" y1="695.45" x2="1063.70" y2="695.45" stroke="#6e7c7c" stroke-width="1"/>
<line x1="1061.50" y1="692.42" x2="1063.70" y2="692.42" stroke="#6e7c7c" stroke-width="1"/>
<line x1="1061.50" y1="689.79" x2="1063.70" y2="689.79" stroke="#6e7c7c" stroke-width="1"/>
<line x1="1061.50" y1="687.47" x2="1063.70" y2="687.47" stroke="#6e7c7c" stroke-width="1"/>
<line x1="1061.50" y1="685.40" x2="1065.50" y2="685.40" stroke="#6e7c7c" stroke-width="1"/>
<path d="M1062.00,790.50 C1062.18,790.30 1060.53,792.45 1063.10,789.30 C1065.67,786.15 1072.80,777.32 1077.40,771.60 C1082.00,765.88 1087.02,759.42 1090.70,755.00 C1094.38,750.58 1096.55,748.03 1099.50,745.10 C1102.45,742.17 1106.18,739.98 1108.40,737.40 C1110.62,734.82 1111.33,733.47 1112.80,729.60 C1114.27,725.73 1115.73,719.72 1117.20,714.20 C1118.67,708.68 1120.13,701.10 1121.60,696.50 C1123.07,691.90 1124.53,689.18 1126.00,686.60 C1127.47,684.02 1128.92,681.85 1130.40,681.00 C1131.88,680.15 1132.68,679.65 1134.90,681.50 C1137.12,683.35 1140.40,687.57 1143.70,692.10 C1147.00,696.63 1151.38,703.18 1154.70,708.70 C1158.02,714.22 1160.28,719.87 1163.60,725.20 C1166.92,730.53 1170.55,736.47 1174.60,740.70 C1178.65,744.93 1182.73,747.28 1187.90,750.60 C1193.07,753.92 1199.72,757.28 1205.60,760.60 C1211.48,763.92 1218.05,767.57 1223.20,770.50 C1228.35,773.43 1232.45,776.35 1236.50,778.20 C1240.55,780.05 1243.82,780.12 1247.50,781.60 C1251.18,783.08 1254.92,784.90 1258.60,787.10 C1262.28,789.30 1265.92,792.42 1269.60,794.80 C1273.28,797.18 1277.02,799.00 1280.70,801.40 C1284.38,803.80 1288.95,807.53 1291.70,809.20 C1294.45,810.87 1296.28,811.03 1297.20,811.40" fill="none" stroke="#4e5c5c" stroke-width="1.35"/>
<text transform="translate(1051.13,849.95) scale(1.0000,1)" font-family='"Liberation Serif", "Times New Roman", serif' font-weight="400" font-size="15.11" fill="#2a2a2a" stroke="#2a2a2a" stroke-width="0.45">250</text>
<text transform="translate(1129.03,849.95) scale(1.0000,1)" font-family='"Liberation Serif", "Times New Roman", serif' font-weight="400" font-size="15.11" fill="#2a2a2a" stroke="#2a2a2a" stroke-width="0.45">300</text>
<text transform="translate(1207.23,849.95) scale(1.0000,1)" font-family='"Liberation Serif", "Times New Roman", serif' font-weight="400" font-size="15.11" fill="#2a2a2a" stroke="#2a2a2a" stroke-width="0.45">350</text>
<text transform="translate(1286.02,849.95) scale(1.0000,1)" font-family='"Liberation Serif", "Times New Roman", serif' font-weight="400" font-size="15.11" fill="#2a2a2a" stroke="#2a2a2a" stroke-width="0.45">400</text>
<text transform="translate(1128.20,873.20) scale(0.9102,1)" font-family='"Liberation Serif", "Times New Roman", serif' font-weight="400" font-size="15.83" fill="#2a2a2a" stroke="#2a2a2a" stroke-width="0.45">Wavelength (nm)</text>
<text transform="translate(1039.78,822.85) rotate(-90) scale(1.1867,1)" font-family='"Liberation Serif", "Times New Roman", serif' font-weight="400" font-size="12.64" fill="#2a2a2a" stroke="#2a2a2a" stroke-width="0.45">EL intensity (arb. unit)</text>
</g>
</svg></body></html>
